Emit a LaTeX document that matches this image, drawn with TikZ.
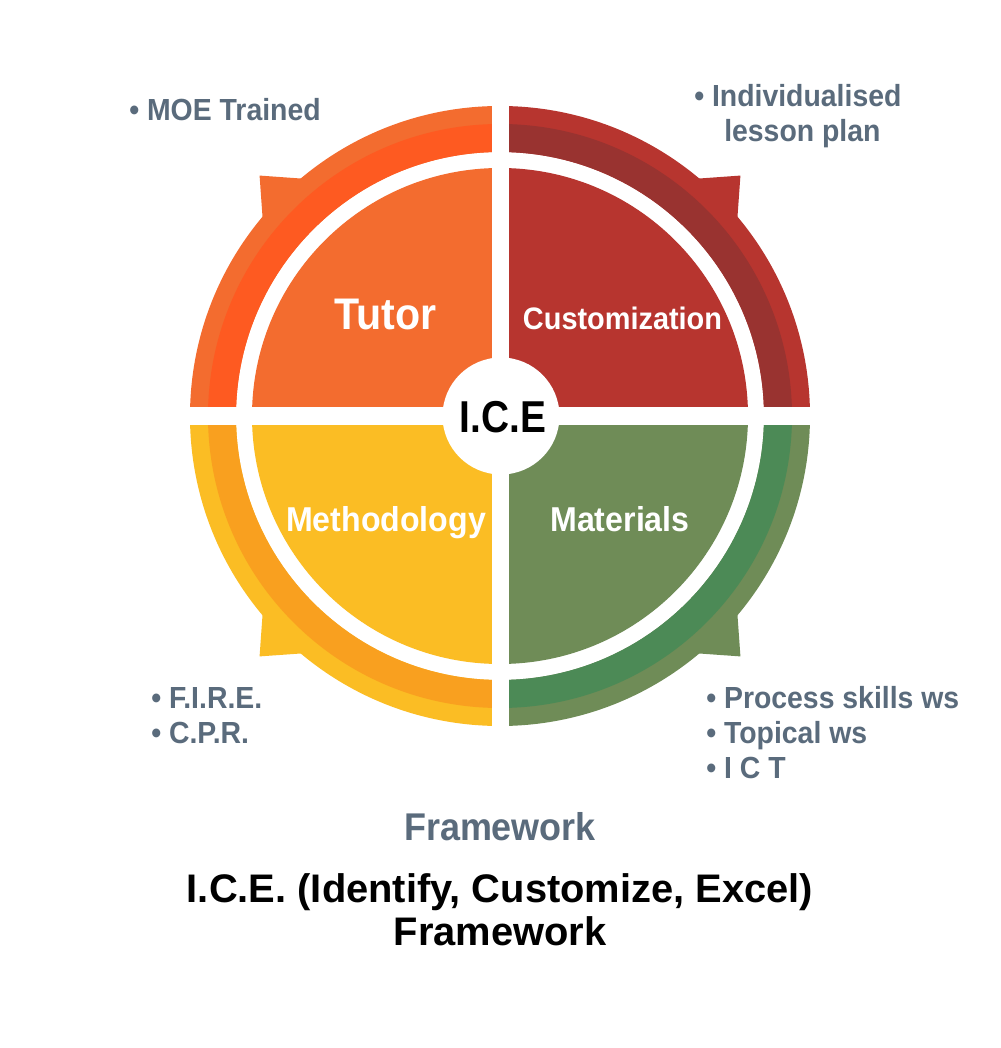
\documentclass[tikz,border=0pt]{standalone}
\usepackage{fontspec}
\setmainfont{Liberation Sans}
\newfontfamily\robo{Liberation Sans}[FakeStretch=0.93]
\newfontfamily\icefont{Liberation Sans}[FakeStretch=0.87]
\definecolor{orL}{HTML}{F36C2F}
\definecolor{orD}{HTML}{FE5A21}
\definecolor{reL}{HTML}{B7352F}
\definecolor{reD}{HTML}{993330}
\definecolor{yeL}{HTML}{FBBD24}
\definecolor{yeD}{HTML}{F9A01F}
\definecolor{grL}{HTML}{6F8C57}
\definecolor{grD}{HTML}{4C8A56}
\definecolor{slate}{HTML}{5A6B7C}
\newcommand{\icequad}[3]{%
  \fill[#2] ({#1}:264) arc[start angle={#1}, end angle={#1+90}, radius=264]
     -- ({#1+90}:310) arc[start angle={#1+90}, end angle={#1}, radius=310] -- cycle;
  \fill[#2] ({#1+39.8}:309) -- ({#1+45}:340) -- ({#1+50.2}:309) -- cycle;
  \fill[#3] ({#1}:264) arc[start angle={#1}, end angle={#1+90}, radius=264]
     -- ({#1+90}:292) arc[start angle={#1+90}, end angle={#1}, radius=292] -- cycle;
  \fill[#2] (0,0) -- ({#1}:248) arc[start angle={#1}, end angle={#1+90}, radius=248] -- cycle;
}
\begin{document}
\begin{tikzpicture}[x=0.75pt,y=0.75pt,
  seglbl/.style={text=white, inner sep=0pt, anchor=base},
  bul/.style={text=slate, inner sep=0pt, anchor=base west,
    font=\robo\bfseries\fontsize{22.9}{26}\selectfont}]
\useasboundingbox[fill=white] (-500,-632) rectangle (500,416);
% quadrants
\icequad{90}{orL}{orD}
\icequad{0}{reL}{reD}
\icequad{180}{yeL}{yeD}
\icequad{270}{grL}{grD}
% white cross and centre
\fill[white] (-8.5,-330) rectangle (8.5,330);
\fill[white] (-330,-9) rectangle (330,9);
\fill[white] (1,0) circle[radius=58.5];
% segment labels
\node[seglbl, font=\robo\bfseries\fontsize{33.2}{40}\selectfont] (tutor) at (-114.5,86) {Tutor};
\node[seglbl, font=\robo\bfseries\fontsize{23.3}{28}\selectfont] (cust) at (122.5,86) {Customization};
\node[seglbl, font=\robo\bfseries\fontsize{25.9}{31}\selectfont] (meth) at (-114,-116) {Methodology};
\node[seglbl, font=\robo\bfseries\fontsize{25.9}{31}\selectfont] (mat) at (120,-116) {Materials};
\node[inner sep=0pt, anchor=base, text=black, font=\icefont\bfseries\fontsize{33.5}{38}\selectfont] (ice) at (3,-17) {I.C.E};
% bullet texts
\node[bul] (moe) at (-371,295) {•\ MOE Trained};
\node[bul] (ind1) at (194,309) {•\ Individualised};
\node[bul] (ind2) at (224,274) {lesson plan};
\node[bul] (fire) at (-349,-292) {•\ F.I.R.E.};
\node[bul] (cpr) at (-349,-327) {•\ C.P.R.};
\node[bul] (proc) at (206,-292) {•\ Process skills ws};
\node[bul] (top) at (206,-327) {•\ Topical ws};
\node[bul] (ict) at (206,-362) {•\ I C T};
% bottom titles
\node[inner sep=0pt, anchor=base, text=slate, font=\robo\bfseries\fontsize{29}{34}\selectfont] (fw) at (0,-424) {Framework};
\node[inner sep=0pt, anchor=base, text=black, font=\bfseries\fontsize{29.9}{34}\selectfont] (title1) at (0,-486) {I.C.E. (Identify, Customize, Excel)};
\node[inner sep=0pt, anchor=base, text=black, font=\bfseries\fontsize{29.9}{34}\selectfont] (title2) at (0,-529) {Framework};
\end{tikzpicture}
\end{document}
